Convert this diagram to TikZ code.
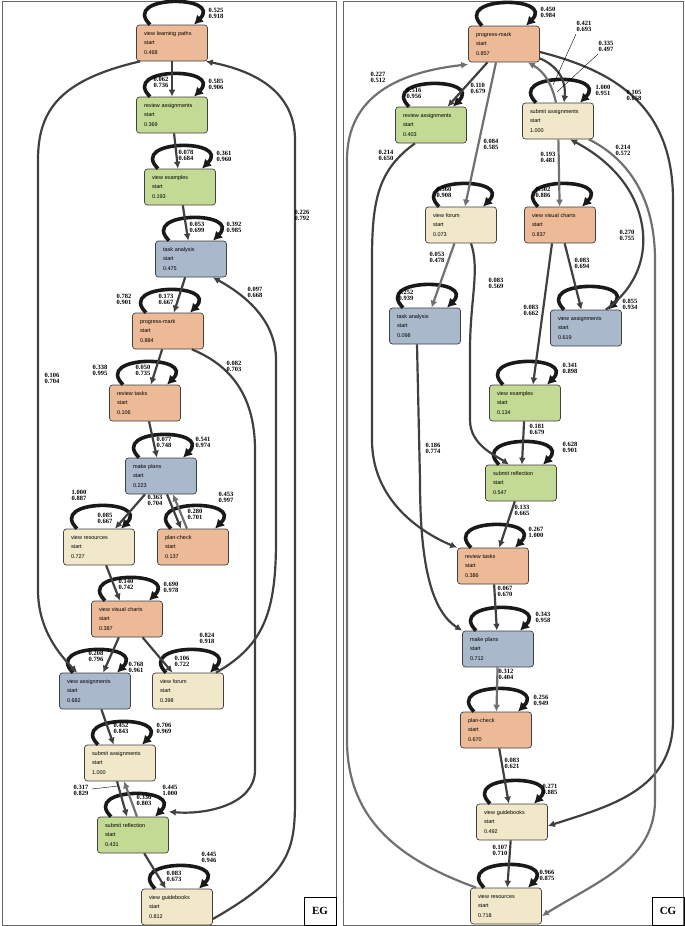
\documentclass[tikz,border=0pt]{standalone}
\usepackage{fontspec}
\setmainfont{Liberation Serif}
\newfontfamily\nfont{Liberation Sans}
\usetikzlibrary{arrows.meta}
\definecolor{cor}{HTML}{EDBA98}
\definecolor{cgr}{HTML}{C2DA94}
\definecolor{cbl}{HTML}{A9B8CA}
\definecolor{ccr}{HTML}{F0E8C8}
\definecolor{edk}{HTML}{404040}
\definecolor{elt}{HTML}{707070}
\tikzset{
 nb/.style={draw=black!75,rounded corners=3pt,minimum width=71bp,minimum height=36bp,text width=56bp,align=left,font=\nfont\fontsize{5.5}{9.5}\selectfont,inner sep=2pt,line width=0.7pt},
 lb/.style={font=\bfseries\fontsize{6.5}{6}\selectfont,align=left,inner sep=0pt},
 sl/.style={line width=3.6pt,black!90,-{Latex[length=9pt,width=10pt]}},
 ed/.style={line width=2.2pt,edk,-{Latex[length=7pt,width=7pt]}},
 eg/.style={line width=2.2pt,elt,-{Latex[length=7pt,width=7pt]}},
 ld/.style={line width=0.4pt,black},
}
\newcommand\sloop[1]{\draw[sl] ([xshift=-22bp]#1.north) .. controls +(-30,-30) and +(30,-30) .. ([xshift=22bp]#1.north);}
\begin{document}
\begin{tikzpicture}[x=1bp,y=-1bp]
\useasboundingbox (0,0) rectangle (685,926);
\fill[white] (0,0) rectangle (685,926);
\draw[black!60,line width=0.8pt] (2,1) rectangle (336,925);
\draw[black!60,line width=0.8pt] (343,1) rectangle (683,925);
\node[draw,line width=0.6pt,minimum width=32bp,minimum height=28bp,font=\bfseries\fontsize{11}{11}\selectfont] (eg) at (320,911) {EG};
\node[draw,line width=0.6pt,minimum width=32bp,minimum height=28bp,font=\bfseries\fontsize{11}{11}\selectfont] (cg) at (668,911) {CG};

% ---------- EG ----------
\node[nb,fill=cor] (a1) at (172,43) {view learning paths\\start\\0.468};
\node[nb,fill=cgr] (a2) at (172,115) {review assignments\\start\\0.369};
\node[nb,fill=cgr] (a3) at (180,187) {view examples\\start\\0.193};
\node[nb,fill=cbl] (a4) at (191,259) {task analysis\\start\\0.475};
\node[nb,fill=cor] (a5) at (168,331) {progress-mark\\start\\0.884};
\node[nb,fill=cor] (a6) at (145,403) {review tasks\\start\\0.106};
\node[nb,fill=cbl] (a7) at (161,476) {make plans\\start\\0.223};
\node[nb,fill=ccr] (a8) at (99,547) {view resources\\start\\0.727};
\node[nb,fill=cor] (a9) at (193,547) {plan-check\\start\\0.137};
\node[nb,fill=cor] (a10) at (127,619) {view visual charts\\start\\0.387};
\node[nb,fill=cbl] (a11) at (95,691) {view assignments\\start\\0.682};
\node[nb,fill=ccr] (a12) at (188,691) {view forum\\start\\0.398};
\node[nb,fill=ccr] (a13) at (120,763) {submit assignments\\start\\1.000};
\node[nb,fill=cgr] (a14) at (133,835) {submit reflection\\start\\0.431};
\node[nb,fill=ccr] (a15) at (177,907) {view guidebooks\\start\\0.812};

\foreach \n in {a1,a2,a3,a4,a5,a6,a7,a8,a9,a10,a11,a12,a13,a14,a15} {\sloop{\n}}

\draw[ed] (a1) -- (a2);
\draw[ed] (a2) -- (a3);
\draw[ed] (a3) -- (a4);
\draw[ed] (a4) -- (a5);
\draw[ed] (a5) -- (a6);
\draw[ed] (a6) -- (a7);
\draw[ed] (a7) -- (a8);
\draw[ed] ([xshift=6bp]a7.south) -- ([xshift=-12bp]a9.north);
\draw[eg] ([xshift=-6bp]a9.north) -- ([xshift=12bp]a7.south);
\draw[ed] (a8) -- (a10);
\draw[ed] (a10) -- (a11);
\draw[ed] (a10) -- (a12);
\draw[ed] (a11) -- (a13);
\draw[ed] ([xshift=-3bp]a13.south) -- ([xshift=-6bp]a14.north);
\draw[eg] ([xshift=4bp]a14.north) -- ([xshift=4bp]a13.south);
\draw[ed] (a14) -- (a15);
\draw[ed] ([xshift=4bp]a1.south west) .. controls (60,80) and (38,110) .. (38,160) -- (38,590) .. controls (38,630) and (60,655) .. ([xshift=18bp]a11.north west);
\draw[ed] ([yshift=-12bp]a15.east) .. controls (290,875) and (295,850) .. (295,800) -- (295,140) .. controls (295,95) and (260,72) .. ([xshift=-2bp]a1.south east);
\draw[ed] ([xshift=-8bp]a12.north east) .. controls (265,645) and (276,610) .. (276,540) -- (276,360) .. controls (276,320) and (245,295) .. ([xshift=-14bp]a4.south east);
\draw[ed] ([xshift=-12bp]a5.south east) .. controls (230,365) and (255,395) .. (255,450) -- (255,770) .. controls (255,805) and (205,815) .. ([yshift=5bp]a14.north east);

\node[lb] at (216,13) {0.525\\0.918};
\node[lb] at (161,82) {0.062\\0.736};
\node[lb] at (216,84) {0.585\\0.906};
\node[lb] at (186,155) {0.078\\0.684};
\node[lb] at (224,156) {0.361\\0.960};
\node[lb] at (197,227) {0.053\\0.699};
\node[lb] at (234,227) {0.392\\0.985};
\node[lb] at (124,299) {0.782\\0.901};
\node[lb] at (166,299) {0.173\\0.667};
\node[lb] at (100,370) {0.338\\0.995};
\node[lb] at (143,370) {0.050\\0.735};
\node[lb] at (164,442) {0.077\\0.748};
\node[lb] at (203,442) {0.541\\0.974};
\node[lb] at (79,495) {1.000\\0.887};
\node[lb] at (105,518) {0.085\\0.667};
\node[lb] at (155,500) {0.363\\0.704};
\node[lb] at (195,514) {0.280\\0.701};
\node[lb] at (226,497) {0.453\\0.997};
\node[lb] at (126,584) {0.140\\0.742};
\node[lb] at (171,587) {0.690\\0.978};
\node[lb] at (96,656) {0.208\\0.796};
\node[lb] at (136,667) {0.768\\0.961};
\node[lb] at (182,661) {0.106\\0.722};
\node[lb] at (207,638) {0.824\\0.918};
\node[lb] at (121,728) {0.452\\0.843};
\node[lb] at (164,728) {0.706\\0.969};
\node[lb] (l317) at (81,790) {0.317\\0.829};
\draw[ld] (92,789) -- (118,786);
\node[lb] at (144,800) {0.336\\0.803};
\node[lb] at (170,790) {0.445\\1.000};
\node[lb] at (174,876) {0.083\\0.673};
\node[lb] at (209,857) {0.445\\0.946};
\node[lb] at (52,378) {0.106\\0.704};
\node[lb] at (302,215) {0.226\\0.792};
\node[lb] at (255,292) {0.097\\0.668};
\node[lb] at (234,366) {0.082\\0.703};

% ---------- CG ----------
\node[nb,fill=cor] (b1) at (504,44) {progress-mark\\start\\0.857};
\node[nb,fill=cgr] (b2) at (431,125) {review assignments\\start\\0.403};
\node[nb,fill=ccr] (b3) at (558,121) {submit assignments\\start\\1.000};
\node[nb,fill=ccr] (b4) at (461,225) {view forum\\start\\0.073};
\node[nb,fill=cor] (b5) at (560,225) {view visual charts\\start\\0.837};
\node[nb,fill=cbl] (b6) at (425,326) {task analysis\\start\\0.098};
\node[nb,fill=cbl] (b7) at (586,328) {view assignments\\start\\0.619};
\node[nb,fill=cgr] (b8) at (525,403) {view examples\\start\\0.134};
\node[nb,fill=cgr] (b9) at (521,483) {submit reflection\\start\\0.547};
\node[nb,fill=cor] (b10) at (493,566) {review tasks\\start\\0.386};
\node[nb,fill=cbl] (b11) at (498,649) {make plans\\start\\0.712};
\node[nb,fill=cor] (b12) at (496,730) {plan-check\\start\\0.670};
\node[nb,fill=ccr] (b13) at (512,822) {view guidebooks\\start\\0.492};
\node[nb,fill=ccr] (b14) at (506,906) {view resources\\start\\0.718};

\foreach \n in {b1,b2,b3,b4,b5,b6,b7,b8,b9,b10,b11,b12,b13,b14} {\sloop{\n}}

\draw[ed] (b1) -- (b2);
\draw[eg] ([xshift=-8bp]b1.south) -- (b4);
\draw[eg] ([xshift=-2bp]b3.north) .. controls (552,85) and (545,72) .. ([xshift=-12bp]b1.south east);
\draw[ed] ([yshift=4bp]b1.south east) .. controls (562,68) and (566,85) .. ([xshift=6bp]b3.north);
\draw[ed] ([yshift=-8bp]b1.east) .. controls (620,72) and (673,110) .. (673,200) -- (673,720) .. controls (673,790) and (610,806) .. ([yshift=-4bp]b13.east);
\draw[ed] ([xshift=-16bp]b2.south) .. controls (378,170) and (372,200) .. (372,260) -- (372,440) .. controls (372,500) and (420,532) .. (b10.north west);
\draw[eg] ([xshift=6bp]b14.north west) .. controls (400,860) and (347,820) .. (347,740) -- (347,160) .. controls (347,95) and (400,72) .. ([yshift=-2bp]b1.south west);
\draw[eg] (b3) -- (b5);
\draw[eg] ([xshift=-5bp]b3.south east) .. controls (630,160) and (655,200) .. (655,260) -- (655,800) .. controls (655,860) and (600,880) .. ([yshift=-10bp]b14.east);
\draw[ed] ([xshift=-16bp]b7.north east) .. controls (640,285) and (648,250) .. (641,220) .. controls (632,180) and (600,155) .. ([xshift=12bp]b3.south);
\draw[eg] (b4) -- (b6);
\draw[ed] ([xshift=10bp]b4.south) .. controls (480,270) and (470,300) .. (470,350) -- (470,420) .. controls (470,445) and (495,455) .. ([xshift=-12bp]b9.north);
\draw[ed] (b5) -- (b7);
\draw[ed] ([xshift=-8bp]b5.south) -- ([xshift=8bp]b8.north);
\draw[ed] ([xshift=-8bp]b6.south) -- (420,480) .. controls (420,560) and (430,610) .. (b11.north west);
\draw[ed] (b8) -- (b9);
\draw[ed] (b9) -- (b10);
\draw[ed] (b10) -- (b11);
\draw[eg] (b11) -- (b12);
\draw[ed] (b12) -- (b13);
\draw[ed] (b13) -- (b14);

\node[lb] at (548,12) {0.450\\0.984};
\node[lb] at (584,26) {0.421\\0.693};
\draw[ld] (576,34) -- (553,85);
\node[lb] at (606,46) {0.335\\0.497};
\draw[ld] (598,54) -- (557,92);
\node[lb] at (478,88) {0.110\\0.679};
\node[lb] at (414,93) {0.516\\0.956};
\node[lb] at (603,90) {1.000\\0.951};
\node[lb] at (634,95) {0.105\\0.658};
\node[lb] at (378,77) {0.227\\0.512};
\node[lb] at (386,155) {0.214\\0.650};
\node[lb] at (491,144) {0.084\\0.585};
\node[lb] at (548,157) {0.193\\0.481};
\node[lb] at (623,150) {0.214\\0.572};
\node[lb] at (444,192) {0.360\\0.908};
\node[lb] at (543,192) {0.502\\0.886};
\node[lb] at (627,235) {0.270\\0.755};
\node[lb] at (437,257) {0.053\\0.478};
\node[lb] at (582,263) {0.083\\0.694};
\node[lb] at (496,283) {0.083\\0.569};
\node[lb] at (406,295) {0.252\\0.939};
\node[lb] at (630,304) {0.855\\0.934};
\node[lb] at (531,310) {0.083\\0.662};
\node[lb] at (570,368) {0.341\\0.898};
\node[lb] at (537,429) {0.181\\0.679};
\node[lb] at (570,447) {0.628\\0.901};
\node[lb] at (433,448) {0.186\\0.774};
\node[lb] at (522,510) {0.133\\0.665};
\node[lb] at (536,532) {0.267\\1.000};
\node[lb] at (505,591) {0.067\\0.670};
\node[lb] at (543,617) {0.343\\0.958};
\node[lb] at (506,674) {0.312\\0.404};
\node[lb] at (541,700) {0.256\\0.949};
\node[lb] at (512,763) {0.083\\0.621};
\node[lb] at (550,789) {0.271\\0.885};
\node[lb] at (500,850) {0.107\\0.710};
\node[lb] at (547,875) {0.966\\0.875};
\end{tikzpicture}
\end{document}
